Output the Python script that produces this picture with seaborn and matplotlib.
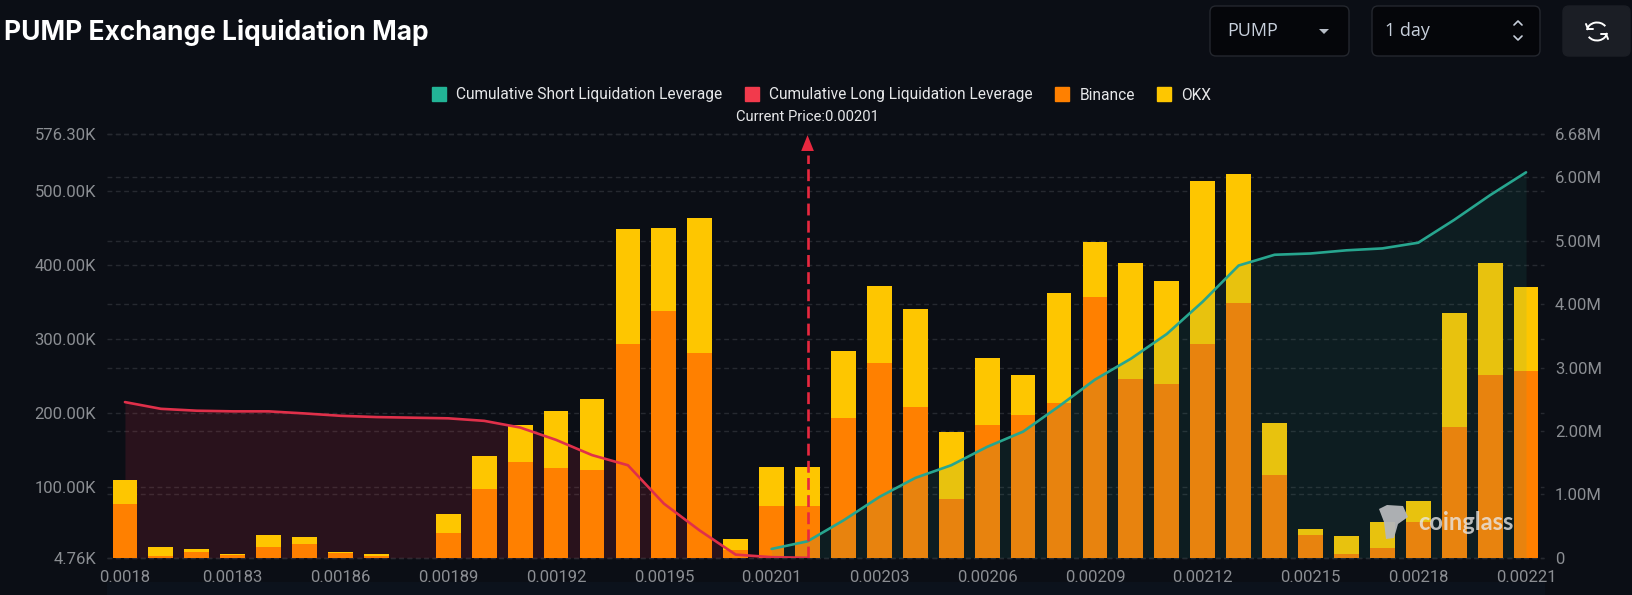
import matplotlib
matplotlib.use("Agg")
import matplotlib.pyplot as plt
import seaborn as sns
import pandas as pd
from matplotlib.patches import FancyBboxPatch, Rectangle, Polygon, Arc, Ellipse
from matplotlib.lines import Line2D
from matplotlib.transforms import blended_transform_factory

price_levels = ["0.001800","0.001810","0.001820","0.001830","0.001840","0.001850","0.001860","0.001870","0.001880","0.001890",
                "0.001900","0.001910","0.001920","0.001930","0.001940","0.001950","0.001965","0.001985","0.002006","0.002014",
                "0.002020","0.002030","0.002040","0.002050","0.002060","0.002070","0.002080","0.002090","0.002100","0.002110",
                "0.002120","0.002130","0.002140","0.002150","0.002160","0.002170","0.002180","0.002190","0.002200","0.002210"]
x_tick_labels = ["0.0018","0.00183","0.00186","0.00189","0.00192","0.00195","0.00201",
                 "0.00203","0.00206","0.00209","0.00212","0.00215","0.00218","0.00221"]
binance_top = [76.8,7,12.4,8,19.2,23.2,11.5,7,0,38.1,98,134,126.4,123.7,293.5,337.6,281.8,14.7,75,75,
               193.5,267.8,208.4,83.6,184.5,198,213.8,356.6,246.7,239,293.2,348.3,116,35.4,9.9,18,53.3,180.9,250.8,257]
stack_top = [109.3,20,16.5,10.2,35,33,12.4,10.2,0,64.2,142.1,184.5,202.5,218.7,448,450.3,462.9,30.4,127.7,127.7,
             284.5,371.4,339.9,175,274,252,362.4,431.3,402.9,378.4,512.7,522.9,186.5,44,33.9,53.3,81.3,335.5,402.9,370.2]
long_cum = [2.456,2.35,2.32,2.31,2.31,2.277,2.24,2.22,2.21,2.20,2.16,2.055,1.86,1.62,1.46,0.855,0.43,0.05,0.01,0.0]
short_cum = [0.14,0.26,0.59,0.96,1.26,1.46,1.75,1.99,2.39,2.81,3.14,3.53,4.04,4.61,4.78,4.80,4.85,4.88,4.97,5.33,5.72,6.08]
left_ticks = [4.76,100,200,300,400,500,576.3]
left_labels = ["4.76K","100.00K","200.00K","300.00K","400.00K","500.00K","576.30K"]
right_ticks = [0,1,2,3,4,5,6,6.68]
right_labels = ["0","1.00M","2.00M","3.00M","4.00M","5.00M","6.00M","6.68M"]
series_names = ["Cumulative Short Liquidation Leverage","Cumulative Long Liquidation Leverage","Binance","OKX"]
current_price = "Current Price:0.00201"

BG="#0b0e15"; ORANGE="#ff8000"; YELLOW="#fec600"; GREEN="#27a68f"; RED="#e0304a"
TICK="#8b8e93"; GRID="#262930"

sns.set_theme(style="dark", rc={"figure.facecolor":BG,"axes.facecolor":BG,"savefig.facecolor":BG})
plt.rcParams["font.family"]=["Roboto","DejaVu Sans"]

W,H=1633,595
fig=plt.figure(figsize=(W/100,H/100),dpi=100)
L,R,T,B=107,1544,134.3,557.8
ax=fig.add_axes([L/W,1-B/H,(R-L)/W,(B-T)/H])
ax2=ax.twinx()
ax2.patch.set_visible(False)

df=pd.DataFrame({"price":price_levels,"total":stack_top,"binance":binance_top})
sns.barplot(data=df,x="price",y="total",order=price_levels,color=YELLOW,saturation=1,width=0.69,ax=ax,zorder=2,linewidth=0,errorbar=None)
sns.barplot(data=df,x="price",y="binance",order=price_levels,color=ORANGE,saturation=1,width=0.69,ax=ax,zorder=3,linewidth=0,errorbar=None)
ax.set_xlim(-0.5,39.5); ax.set_ylim(left_ticks[0],left_ticks[-1])
ax2.set_ylim(right_ticks[0],right_ticks[-1])
ax.set_xlabel(""); ax.set_ylabel(""); ax2.set_ylabel("")

ax.set_yticks(left_ticks,left_labels); ax2.set_yticks(right_ticks,right_labels)
ax.set_xticks(list(range(0,40,3)),x_tick_labels)
for a in (ax,ax2):
    a.tick_params(axis="both",length=0,labelsize=12,labelcolor=TICK,pad=8)
    a.grid(False)
    for s in a.spines.values(): s.set_visible(False)
ax.tick_params(axis="x",pad=9)

# both axes' grid lines sit beneath the bars
dash=(0,(3.5,2.5))
for v in left_ticks:
    ax.axhline(v,color=GRID,lw=1,ls=dash,zorder=0.5,clip_on=False)
tr=blended_transform_factory(ax.transAxes,ax2.transData)
for v in right_ticks:
    ax.plot([0,1],[v,v],transform=tr,color=GRID,lw=1,ls=dash,zorder=0.5,clip_on=False)

x_long=list(range(len(long_cum)))
x_short=list(range(18,18+len(short_cum)))
ax.fill_between(x_long,long_cum,0,transform=ax2.transData,color=RED,alpha=0.145,lw=0,zorder=1)
ax2.fill_between(x_short,short_cum,0,color=GREEN,alpha=0.10,lw=0,zorder=1)
sns.lineplot(x=x_long,y=long_cum,ax=ax2,color=RED,lw=1.9,zorder=4,errorbar=None)
sns.lineplot(x=x_short,y=short_cum,ax=ax2,color=GREEN,lw=1.9,zorder=4,errorbar=None)
ax2.set_ylabel("")

# current price marker
xt=ax2.get_xaxis_transform()
ax2.plot([19,19],[0,0.95],transform=xt,color="#e8283f",lw=1.9,ls=(0,(4.5,2)),zorder=5)
ax2.annotate("",xy=(19,0.998),xytext=(19,0.945),xycoords=xt,textcoords=xt,
             arrowprops=dict(arrowstyle="-|>,head_length=0.95,head_width=0.38",color="#e8283f",lw=0,shrinkA=0,shrinkB=0),zorder=6)

# overlay in pixel coordinates for page furniture
ov=fig.add_axes([0,0,1,1],zorder=10); ov.set_xlim(0,W); ov.set_ylim(H,0); ov.axis("off"); ov.patch.set_visible(False)
ov.add_patch(Rectangle((107,582),1438,13,color="#0c121c",lw=0,zorder=0))
ov.text(4,32,"PUMP Exchange Liquidation Map",color="white",fontsize=19,fontweight="bold",family=["Inter","DejaVu Sans"],va="center",ha="left")
ov.text(807,117,current_price,color="#e6e7e9",fontsize=10.6,ha="center",va="center")

# legend
handles=[Line2D([],[],marker="s",ls="",ms=10.4,mfc=c,mec=c) for c in ["#22b496","#f23a4c",ORANGE,YELLOW]]
ov.legend(handles,series_names,ncols=4,loc="center",bbox_to_anchor=(817.5,95),bbox_transform=ov.transData,frameon=False,
          labelcolor="#e6e7e9",fontsize=11.2,handletextpad=0.1,columnspacing=0.9,borderpad=0,borderaxespad=0)

# controls
def box(x0,x1,fc,ec):
    ov.add_patch(FancyBboxPatch((x0+5,11),x1-x0-10,40,boxstyle="round,pad=0,rounding_size=6",mutation_aspect=1,fc=fc,ec=ec,lw=1))
    ov.patches[-1].set_bounds(x0,6,x1-x0,50)
box(1210,1349,"#05060a","#24272e"); box(1372,1540,"#05060a","#24272e"); box(1563,1630,"#1b1e25","#1b1e25")
ov.text(1227,31,"PUMP",color="#c8d0dc",fontsize=13,family=["Open Sans","DejaVu Sans"],va="center")
ov.text(1385,31,"1 day",color="#c8d0dc",fontsize=13,family=["Open Sans","DejaVu Sans"],va="center")
ov.add_patch(Polygon([[1319,29],[1329,29],[1324,34]],color="#b8bec8",lw=0))
ov.plot([1514,1518,1522],[25,21,25],color="#c8d0dc",lw=1.2); ov.plot([1514,1518,1522],[36,40,36],color="#c8d0dc",lw=1.2)
ov.add_patch(Arc((1597,31),20,17,theta1=185,theta2=330,color="white",lw=1.4))
ov.add_patch(Arc((1597,32),20,17,theta1=5,theta2=150,color="white",lw=1.4))
ov.plot([1586,1588,1593],[24,29,29],color="white",lw=1.4); ov.plot([1608,1606,1601],[39,34,34],color="white",lw=1.4)

# watermark
ov.add_patch(Polygon([[1379,509],[1387,505],[1403,506],[1408,517],[1398,524],[1394,538],[1386,539],[1384,522]],color="#b6b8bb",lw=0,alpha=0.95))
ov.text(1418,522,"coinglass",color="#e8e8e8",alpha=0.78,fontsize=17,fontweight="bold",family=["Lato","DejaVu Sans"],va="center")

fig.savefig("out.png",dpi=100)
